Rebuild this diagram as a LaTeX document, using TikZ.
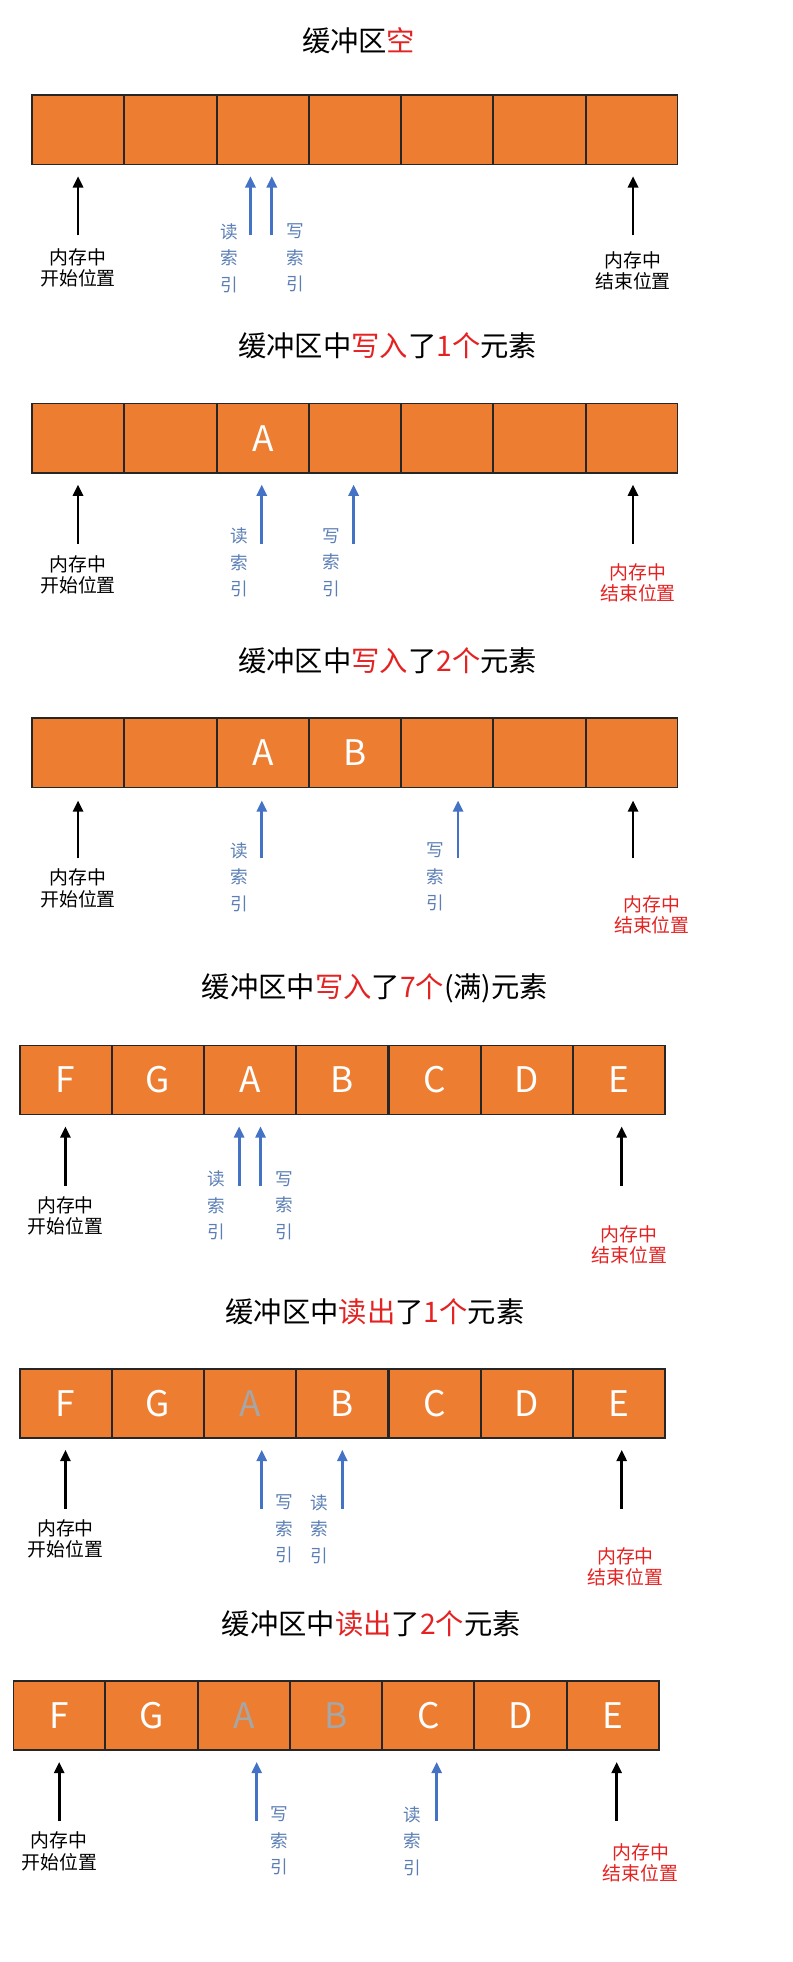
\documentclass[tikz,border=0pt]{standalone}
\usepackage{fontspec}
\setmainfont{Noto Sans CJK SC}
\usetikzlibrary{arrows.meta}
\definecolor{org}{HTML}{ED7D31}
\definecolor{blu}{HTML}{4472C4}
\definecolor{lbl}{HTML}{5B7FB5}
\definecolor{rd}{HTML}{E52222}
\definecolor{gr}{HTML}{A6A6A6}
\tikzset{
 cellbox/.style={draw=black!85,line width=1.3pt,fill=org,minimum width=73pt,minimum height=55pt,inner sep=0pt,text=white,font=\fontsize{28}{28}\selectfont},
 ttl/.style={font=\fontsize{22.5}{24}\selectfont},
 lab/.style={font=\fontsize{15}{17}\selectfont,align=center,inner sep=0pt},
 vlab/.style={font=\fontsize{14}{21}\selectfont,text=lbl,align=center,inner sep=0pt},
 karr/.style={-{Triangle[length=9pt,width=8pt]},line width=2.2pt,black},
 barr/.style={-{Triangle[length=9pt,width=8pt]},line width=2.2pt,blu},
}
\newcommand{\bufrow}[4]{% name, x0, ytop, letters
 \foreach \L [count=\i] in {#4}{%
  \node[cellbox,anchor=north west] (#1c\i) at ({#2+(\i-1)*73.3},#3) {\L};}}
\begin{document}
\begin{tikzpicture}[x=1pt,y=-1pt]
\useasboundingbox (0,0) rectangle (630,1559);
% panel 1
\node[ttl] (t1) at (285,32) {缓冲区\textcolor{rd}{空}};
\bufrow{a}{25}{75}{{},{},{},{},{},{},{}}
\coordinate (a1) at (62,187); \coordinate (a2) at (199,187); \coordinate (a3) at (216,187); \coordinate (a4) at (503,187);
\draw[karr] (a1) -- (62,140); \draw[barr] (a2) -- (199,140); \draw[barr] (a3) -- (216,140); \draw[karr] (a4) -- (503,140);
\node[lab] (l1) at (62,213) {内存中\\开始位置};
\node[vlab] (r1) at (182,205) {读\\索\\引};
\node[vlab] (w1) at (235,205) {写\\索\\引};
\node[lab] (e1) at (503,215) {内存中\\结束位置};
% panel 2
\node[ttl] (t2) at (308,275) {缓冲区中\textcolor{rd}{写入}了\textcolor{rd}{1个}元素};
\bufrow{b}{25}{320}{{},{},A,{},{},{},{}}
\coordinate (b1) at (62,432); \coordinate (b2) at (208,432); \coordinate (b3) at (281,432); \coordinate (b4) at (503,432);
\draw[karr] (b1) -- (62,385); \draw[barr] (b2) -- (208,385); \draw[barr] (b3) -- (281,385); \draw[karr] (b4) -- (503,385);
\node[lab] (l2) at (62,457) {内存中\\开始位置};
\node[vlab] (r2) at (190,447) {读\\索\\引};
\node[vlab] (w2) at (263,447) {写\\索\\引};
\node[lab,text=rd] (e2) at (507,463) {内存中\\结束位置};
% panel 3
\node[ttl] (t3) at (308,525) {缓冲区中\textcolor{rd}{写入}了\textcolor{rd}{2个}元素};
\bufrow{c}{25}{570}{{},{},A,B,{},{},{}}
\coordinate (c1) at (62,682); \coordinate (c2) at (208,682); \coordinate (c3) at (364,682); \coordinate (c4) at (503,682);
\draw[karr] (c1) -- (62,636); \draw[barr] (c2) -- (208,636); \draw[barr] (c3) -- (364,636); \draw[karr] (c4) -- (503,636);
\node[lab] (l3) at (62,706) {内存中\\开始位置};
\node[vlab] (r3) at (190,697) {读\\索\\引};
\node[vlab] (w3) at (346,697) {写\\索\\引};
\node[lab,text=rd] (e3) at (518,727) {内存中\\结束位置};
% panel 4
\node[ttl] (t4) at (298,785) {缓冲区中\textcolor{rd}{写入}了\textcolor{rd}{7个}(满)元素};
\bufrow{d}{15}{830}{F,G,A,B,C,D,E}
\coordinate (d1) at (52,942); \coordinate (d2) at (190,942); \coordinate (d3) at (207,942); \coordinate (d4) at (494,942);
\draw[karr] (d1) -- (52,895); \draw[barr] (d2) -- (190,895); \draw[barr] (d3) -- (207,895); \draw[karr] (d4) -- (494,895);
\node[lab] (l4) at (52,966) {内存中\\开始位置};
\node[vlab] (r4) at (172,958) {读\\索\\引};
\node[vlab] (w4) at (226,958) {写\\索\\引};
\node[lab,text=rd] (e4) at (500,989) {内存中\\结束位置};
% panel 5
\node[ttl] (t5) at (298,1042) {缓冲区中\textcolor{rd}{读出}了\textcolor{rd}{1个}元素};
\bufrow{f}{15}{1087}{F,G,\textcolor{gr}{A},B,C,D,E}
\coordinate (f1) at (52,1199); \coordinate (f2) at (208,1199); \coordinate (f3) at (272,1199); \coordinate (f4) at (494,1199);
\draw[karr] (f1) -- (52,1152); \draw[barr] (f2) -- (208,1152); \draw[barr] (f3) -- (272,1152); \draw[karr] (f4) -- (494,1152);
\node[lab] (l5) at (52,1223) {内存中\\开始位置};
\node[vlab] (w5) at (226,1215) {写\\索\\引};
\node[vlab] (r5) at (254,1215) {读\\索\\引};
\node[lab,text=rd] (e5) at (497,1245) {内存中\\结束位置};
% panel 6
\node[ttl] (t6) at (295,1290) {缓冲区中\textcolor{rd}{读出}了\textcolor{rd}{2个}元素};
\bufrow{g}{10}{1335}{F,G,\textcolor{gr}{A},\textcolor{gr}{B},C,D,E}
\coordinate (g1) at (47,1447); \coordinate (g2) at (204,1447); \coordinate (g3) at (347,1447); \coordinate (g4) at (490,1447);
\draw[karr] (g1) -- (47,1400); \draw[barr] (g2) -- (204,1400); \draw[barr] (g3) -- (347,1400); \draw[karr] (g4) -- (490,1400);
\node[lab] (l6) at (47,1471) {内存中\\开始位置};
\node[vlab] (w6) at (222,1463) {写\\索\\引};
\node[vlab] (r6) at (328,1463) {读\\索\\引};
\node[lab,text=rd] (e6) at (509,1480) {内存中\\结束位置};
\end{tikzpicture}
\end{document}
